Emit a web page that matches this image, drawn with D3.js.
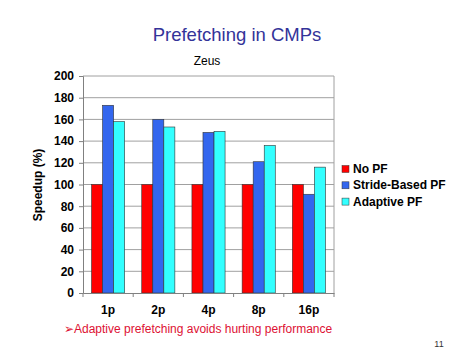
<!DOCTYPE html>
<html><head><meta charset="utf-8">
<script src="https://cdn.jsdelivr.net/npm/d3@7"></script>
<style>body{margin:0;background:#fff;font-family:Arial,"Liberation Sans",sans-serif}</style>
</head><body><svg id="c" width="474" height="355"></svg>
<script>
const categories = ["1p","2p","4p","8p","16p"];
const seriesNames = ["No PF","Stride-Based PF","Adaptive PF"];
const noPF = [100,100,100,100,100];
const stridePF = [173,160,148,121,91];
const adaptivePF = [158,153,149,136,116];
const yTicks = [0,20,40,60,80,100,120,140,160,180,200];
const colors = ["#ff0000","#3366ee","#33ffff"];

const svg = d3.select("#c");
const L=83,R=334,T=76,B=293;
const x = d3.scaleBand().domain(categories).range([L,R]).paddingInner(0.34).paddingOuter(0.17);
const xs = d3.scaleBand().domain(seriesNames).range([0,x.bandwidth()]);
const y = d3.scaleLinear().domain([0,200]).range([B,T]);

svg.append("text").attr("x",237).attr("y",41).attr("text-anchor","middle")
  .attr("font-size",18.5).attr("fill","#333399").text("Prefetching in CMPs");
svg.append("text").attr("x",207).attr("y",65).attr("text-anchor","middle")
  .attr("font-size",12).attr("fill","#000").text("Zeus");

// grid
svg.append("g").selectAll("line").data(yTicks.slice(1)).join("line")
  .attr("x1",L).attr("x2",R).attr("y1",d=>y(d)).attr("y2",d=>y(d))
  .attr("stroke","#a0a0a0").attr("stroke-width",1);
svg.append("line").attr("x1",R).attr("x2",R).attr("y1",T).attr("y2",B).attr("stroke","#a0a0a0");

const data = categories.map((c,i)=>({c, v:[noPF[i],stridePF[i],adaptivePF[i]]}));
const g = svg.append("g").selectAll("g").data(data).join("g").attr("transform",d=>`translate(${x(d.c)},0)`);
g.selectAll("rect").data(d=>d.v.map((v,j)=>({v,s:seriesNames[j],j}))).join("rect")
  .attr("x",d=>xs(d.s)).attr("width",xs.bandwidth()).attr("y",d=>y(d.v)).attr("height",d=>B-y(d.v))
  .attr("fill",d=>colors[d.j]).attr("stroke","#333").attr("stroke-width",0.6);

// axes
const ya = svg.append("g").attr("transform",`translate(${L},0)`)
  .call(d3.axisLeft(y).tickValues(yTicks).tickSize(4).tickPadding(5));
ya.select(".domain").attr("stroke","#808080");
ya.selectAll(".tick line").attr("stroke","#808080");
ya.selectAll("text").attr("font-size",12).attr("font-weight","bold").attr("fill","#000").attr("font-family","Arial,Liberation Sans,sans-serif");

const xa = svg.append("g").attr("transform",`translate(0,${B})`)
  .call(d3.axisBottom(x).tickSize(0).tickPadding(12));
xa.select(".domain").attr("stroke","#808080");
xa.selectAll("text").attr("font-size",12).attr("font-weight","bold").attr("fill","#000").attr("font-family","Arial,Liberation Sans,sans-serif");
const step = (R-L)/categories.length;
svg.append("g").selectAll("line").data(d3.range(categories.length+1)).join("line")
  .attr("x1",i=>L+i*step).attr("x2",i=>L+i*step).attr("y1",B).attr("y2",B+4).attr("stroke","#808080");

svg.append("text").attr("transform","translate(42,185) rotate(-90)").attr("text-anchor","middle")
  .attr("font-size",12).attr("font-weight","bold").text("Speedup (%)");

// legend
const lg = svg.append("g").selectAll("g").data(seriesNames).join("g")
  .attr("transform",(d,i)=>`translate(342,${165.5+i*16.3})`);
lg.append("rect").attr("width",7).attr("height",7).attr("fill",(d,i)=>colors[i]).attr("stroke","#333").attr("stroke-width",0.5);
lg.append("text").attr("x",11).attr("y",7.5).attr("font-size",12).attr("font-weight","bold").text(d=>d);

svg.append("text").attr("x",64).attr("y",333).attr("font-size",12).attr("fill","#dd1133").text("➢Adaptive prefetching avoids hurting performance");
svg.append("text").attr("x",439).attr("y",347).attr("text-anchor","middle").attr("font-size",9).attr("fill","#333").text("11");
</script></body></html>
